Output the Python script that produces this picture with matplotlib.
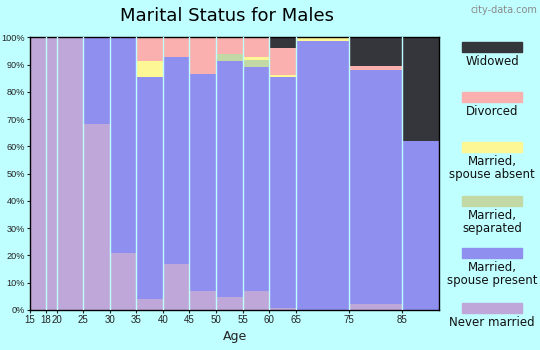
import matplotlib
matplotlib.use('Agg')
import matplotlib.pyplot as plt
from matplotlib.patches import Rectangle
import numpy as np

# age groups: left edges and widths (years)
edges = [15, 18, 20, 25, 30, 35, 40, 45, 50, 55, 60, 65, 75, 85, 92]
tick_ages = [15, 18, 20, 25, 30, 35, 40, 45, 50, 55, 60, 65, 75, 85]

# percent of males in each group (bottom -> top)
never_married = [100, 100, 100, 68.1, 21.0, 4.1, 16.8, 7.0, 4.9, 7.0, 0.8, 0.0, 2.2, 0.0]
spouse_present = [0, 0, 0, 31.9, 79.0, 81.2, 75.9, 79.6, 86.3, 82.0, 84.5, 98.5, 85.8, 61.9]
separated = [0, 0, 0, 0, 0, 0, 0, 0, 2.7, 2.7, 0, 0, 0, 0]
spouse_absent = [0, 0, 0, 0, 0, 5.9, 0, 0, 0, 1.0, 0.8, 1.5, 0, 0]
divorced = [0, 0, 0, 0, 0, 8.8, 7.3, 13.4, 6.1, 7.3, 10.0, 0, 1.5, 0]
widowed = [0, 0, 0, 0, 0, 0, 0, 0, 0, 0, 3.9, 0, 10.5, 38.1]

series = [
    ('Never married', never_married, '#bfa8d9'),
    ('Married,\nspouse present', spouse_present, '#8f8ff0'),
    ('Married,\nseparated', separated, '#c2d9a5'),
    ('Married,\nspouse absent', spouse_absent, '#fdf895'),
    ('Divorced', divorced, '#f9b0ae'),
    ('Widowed', widowed, '#35363b'),
]

BG = '#c0ffff'
TICKFONT = ['Liberation Sans', 'DejaVu Sans']
plt.rcParams['font.family'] = ['DejaVu Sans']

fig = plt.figure(figsize=(5.4, 3.5), dpi=100, facecolor=BG)
ax = fig.add_axes([0.0556, 0.1143, 0.758, 0.779])
ax.set_facecolor(BG)

left = np.array(edges[:-1], float)
width = np.diff(edges).astype(float)
bottom = np.zeros(len(left))
for name, vals, col in series:
    vals = np.array(vals, float)
    ax.bar(left, vals, width=width, bottom=bottom, align='edge', color=col,
           edgecolor='none', linewidth=0)
    bottom += vals
for x in edges[1:-1]:
    ax.axvline(x, color=BG, lw=1.0, zorder=3)

ax.set_xlim(edges[0], edges[-1])
ax.set_ylim(0, 100)
ax.set_xticks(tick_ages)
ax.set_xticklabels([str(a) for a in tick_ages], family=TICKFONT, fontsize=7)
ax.set_yticks(range(0, 101, 10))
ax.set_yticklabels([f'{v}%' for v in range(0, 101, 10)], family=TICKFONT, fontsize=6.6)
ax.tick_params(length=2.5, width=0.8, pad=1, colors='#222222')
for s in ax.spines.values():
    s.set_color('black')
    s.set_linewidth(1.0)
ax.set_xlabel('Age', fontsize=9, color='#222222', labelpad=4)

fig.text(0.42, 0.955, 'Marital Status for Males', ha='center', va='center', fontsize=13)
fig.text(0.995, 0.985, 'city-data.com', ha='right', va='top', fontsize=7, color='#8a8a8a')

# legend: swatch with label underneath
leg_y = [47, 97, 147, 201, 253, 308]   # swatch centers in pixels from top
for (name, vals, col), py in zip(series[::-1], leg_y):
    fy = 1 - py / 350
    fig.patches.append(Rectangle((462 / 540, fy - 5 / 350), 60 / 540, 10 / 350,
                                 transform=fig.transFigure, color=col))
    fig.text(492 / 540, fy - 8 / 350, name, ha='center', va='top', fontsize=8.5,
             linespacing=1.0, color='#111111')

fig.savefig('out.png', dpi=100, facecolor=BG)
